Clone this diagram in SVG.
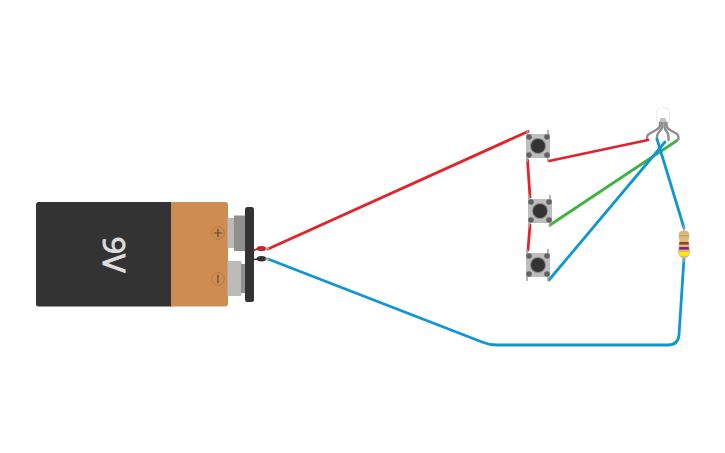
<svg xmlns="http://www.w3.org/2000/svg" width="725" height="453" viewBox="0 0 725 453">
<style>
.w{fill:none;stroke-width:2.8;stroke-linecap:round;stroke-linejoin:round}
.r{stroke:#e2232a}.g{stroke:#3fb23f}.b{stroke:#0f97d3}
.lead{fill:none;stroke:#a3a3a3;stroke-width:1.6}
.body{fill:#bdbdbd}
.pin{fill:#626262}
.cap{fill:#333}
.halo{fill:#8a8a8a}
.bl{fill:none;stroke:#8f8f8f;stroke-width:2.4;stroke-linejoin:round;stroke-linecap:round}
</style>
<defs>
<g id="sw">
<path d="M-11-16V-10M10-16V-10M-11 10V16M10 10V16" class="lead"/>
<rect x="-12" y="-12" width="24" height="24" rx="0.800" class="body"/>
<circle cx="-9" cy="-9" r="2.800" class="pin"/><circle cx="9" cy="-9" r="2.800" class="pin"/>
<circle cx="-9" cy="9" r="2.800" class="pin"/><circle cx="9" cy="9" r="2.800" class="pin"/>
<circle r="8" class="halo"/>
<circle r="7" class="cap"/>
</g>
</defs>
<rect width="725" height="453" fill="#fff"/>
<g id="led">
<path d="M656.500 122V113Q656.500 107.500 663 107.500Q669.500 107.500 669.500 113V122Z" fill="#fff" stroke="#ececec" stroke-width="1.200"/>
<path d="M658.500 124H667.500L665.500 118H660.500Z" fill="#c4c4c4"/>
<path class="bl" d="M660 123V125Q660 128 656 130L649 134Q647 135 647 138"/>
<path class="bl" d="M662 123V127Q662 129 659 132Q657 134 657 137V140"/>
<path class="bl" d="M664.500 123V127Q664.500 129 667 132Q668.500 134 668.500 137V140"/>
<path class="bl" d="M666.500 123V125Q666.500 128 670 130L677 134Q678.500 135 678.500 139"/>
</g>
<g id="connectors">
<path class="w r" d="M268 249L528 131.500"/>
<path class="w r" d="M527.500 160L530 197"/>
<path class="w r" d="M530 225L528 250"/>
<path class="w r" d="M549 161L648 140"/>
<path class="w g" d="M550 225L677 140.500"/>
<path class="w b" d="M549 280L665 142"/>
<path class="w b" d="M657 139L684 228"/>
<path class="w b" d="M268 259L482 342Q489 345 497 345H668Q678 345 679 335L684 258"/>
</g>
<g id="battery">
<rect x="36" y="202" width="138" height="104.500" rx="2.500" fill="#333"/>
<path d="M171 202H225Q228 202 228 205V303.500Q228 306.500 225 306.500H171Z" fill="#ce8c52"/>
<rect x="227.500" y="218" width="7" height="30" fill="#bbb"/>
<rect x="234" y="215.500" width="11" height="35.500" fill="#8f8f8f"/>
<rect x="227.500" y="261" width="14" height="35" rx="1" fill="#bbb"/>
<rect x="241" y="264" width="5" height="29" fill="#8f8f8f"/>
<rect x="245" y="207" width="9" height="95" rx="2.500" fill="#333"/>
<circle cx="218" cy="233" r="6.300" fill="none" stroke="#b5773f" stroke-width="0.800"/>
<circle cx="218" cy="279" r="6.300" fill="none" stroke="#b5773f" stroke-width="0.800"/>
<path d="M213.800 233H222.200M218 228.800V237.200M218 274.800V283.200" stroke="#5c4a38" stroke-width="1.200" fill="none"/>
<text transform="translate(103 254.500) rotate(90)" text-anchor="middle" font-family="Open Sans, DejaVu Sans, sans-serif" font-size="31" stroke="#dcdcdc" stroke-width="1" fill="#dcdcdc">9V</text>
<path d="M254 250L258 249M254 259.500L258 259" stroke-width="1.400" fill="none" stroke="#333"/>
<path d="M254 250L258 249" stroke-width="1.400" fill="none" stroke="#c1272d"/>
<ellipse cx="261.500" cy="248.600" rx="4.800" ry="2.700" fill="#c1272d"/>
<ellipse cx="261.500" cy="258.800" rx="4.800" ry="2.700" fill="#333"/>
<path d="M265.500 248.600L269 248.400M265.500 258.800L269 259.500" stroke="#a3a3a3" stroke-width="2.400" fill="none"/>
</g>
<g id="button1"><use href="#sw" x="538" y="146"/></g>
<g id="button2"><use href="#sw" x="540" y="211"/></g>
<g id="button3"><use href="#sw" x="538" y="265"/></g>
<g id="resistor">
<path d="M684 226V234M684 256V262" stroke="#a3a3a3" stroke-width="1.600" fill="none"/>
<path d="M681 231H687Q689.500 232 689.500 236L688.500 241L690 251Q690 258 684 258Q678 258 678 251L679.500 241L678.500 236Q678.500 232 681 231Z" fill="#dcb87c"/>
<rect x="679.500" y="235" width="9" height="1.400" fill="#c9a46a"/>
<rect x="679.300" y="242" width="9.400" height="2.600" fill="#8a4a1c"/>
<rect x="679.200" y="247" width="9.600" height="2.600" fill="#8e1a8e"/>
<rect x="679" y="252" width="10" height="4" fill="#fbe50c"/>
</g>
</svg>
